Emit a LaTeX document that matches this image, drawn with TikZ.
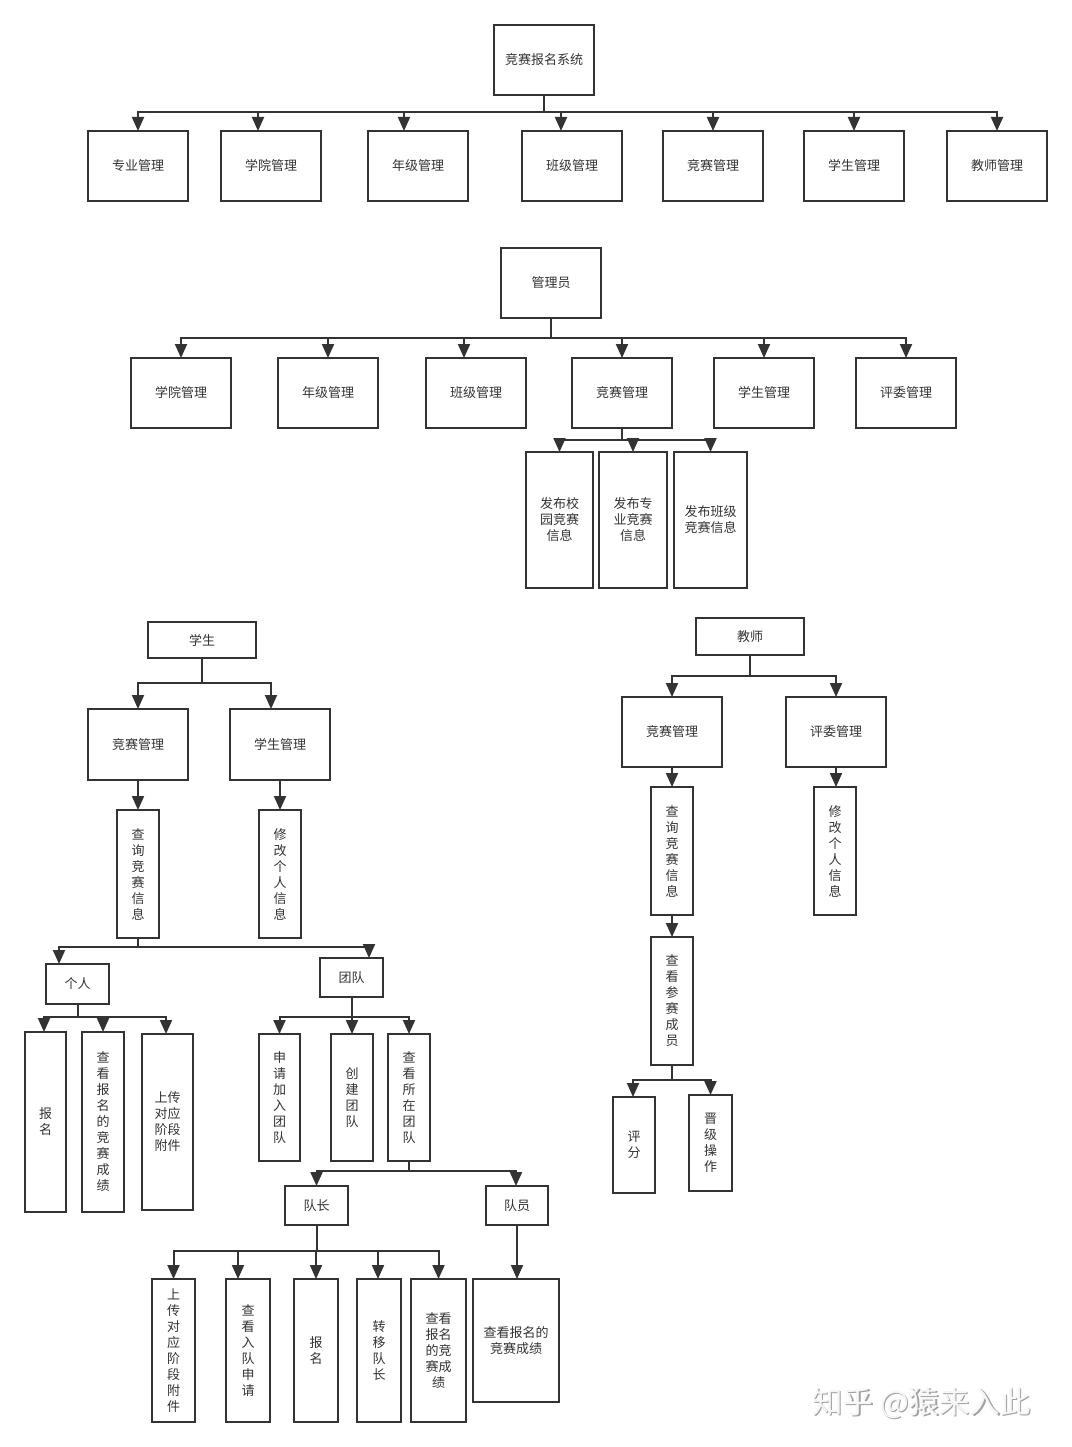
\documentclass[tikz,border=0pt]{standalone}
\usepackage{fontspec}
\newfontfamily\cjk{Noto Sans CJK SC}
\usetikzlibrary{arrows.meta}
\definecolor{ink}{HTML}{333333}
\definecolor{wmshadow}{HTML}{A0A0A0}
\definecolor{wmface}{HTML}{F6F6F6}
\begin{document}
\begin{tikzpicture}[x=1pt,y=-1pt,
  box/.style={draw=ink, line width=2pt, fill=white, inner sep=0pt, outer sep=0pt,
    align=center, text=ink, font=\cjk\fontsize{13}{16}\selectfont},
  arr/.style={draw=ink, line width=2pt, -{Triangle[width=12pt,length=14pt]}},
  wm/.style={inner sep=0pt, font=\cjk\fontsize{30.5}{32}\selectfont}]
\fill[white] (0,0) rectangle (1071,1447);
\useasboundingbox (0,0) rectangle (1071,1447);

% ---------- system overview ----------
\node[box, minimum width=100pt, minimum height=70pt] (sys) at (544,60) {竞赛报名系统};
\node[box, minimum width=100pt, minimum height=70pt] (r1a) at (138,166) {专业管理};
\node[box, minimum width=100pt, minimum height=70pt] (r1b) at (271,166) {学院管理};
\node[box, minimum width=100pt, minimum height=70pt] (r1c) at (418,166) {年级管理};
\node[box, minimum width=100pt, minimum height=70pt] (r1d) at (572,166) {班级管理};
\node[box, minimum width=100pt, minimum height=70pt] (r1e) at (713,166) {竞赛管理};
\node[box, minimum width=100pt, minimum height=70pt] (r1f) at (854,166) {学生管理};
\node[box, minimum width=100pt, minimum height=70pt] (r1g) at (997,166) {教师管理};
\foreach \n/\dx in {r1a/0,r1b/-13,r1c/-14,r1d/-11,r1e/0,r1f/0,r1g/0}
  \draw[arr] (sys.south) -- ++(0,17) -| ([xshift=\dx]\n.north);

% ---------- administrator ----------
\node[box, minimum width=100pt, minimum height=70pt] (adm) at (551,283) {管理员};
\node[box, minimum width=100pt, minimum height=70pt] (r2a) at (181,393) {学院管理};
\node[box, minimum width=100pt, minimum height=70pt] (r2b) at (328,393) {年级管理};
\node[box, minimum width=100pt, minimum height=70pt] (r2c) at (476,393) {班级管理};
\node[box, minimum width=100pt, minimum height=70pt] (r2d) at (622,393) {竞赛管理};
\node[box, minimum width=100pt, minimum height=70pt] (r2e) at (764,393) {学生管理};
\node[box, minimum width=100pt, minimum height=70pt] (r2f) at (906,393) {评委管理};
\foreach \n/\dx in {r2a/0,r2b/0,r2c/-12,r2d/0,r2e/0,r2f/0}
  \draw[arr] (adm.south) -- ++(0,20) -| ([xshift=\dx]\n.north);
\node[box, minimum width=67pt, minimum height=136pt] (p1) at (559.5,520) {发布校\\园竞赛\\信息};
\node[box, minimum width=68pt, minimum height=136pt] (p2) at (633,520) {发布专\\业竞赛\\信息};
\node[box, minimum width=73pt, minimum height=136pt] (p3) at (710.5,520) {发布班级\\竞赛信息};
\foreach \n in {p1,p2,p3}
  \draw[arr] (r2d.south) -- ++(0,12) -| (\n.north);

% ---------- student ----------
\node[box, minimum width=108pt, minimum height=36pt] (stu) at (202,640) {学生};
\node[box, minimum width=100pt, minimum height=71pt] (s1) at (138,744.5) {竞赛管理};
\node[box, minimum width=100pt, minimum height=71pt] (s2) at (280,744.5) {学生管理};
\foreach \n/\dx in {s1/0,s2/-9}
  \draw[arr] (stu.south) -- ++(0,25) -| ([xshift=\dx]\n.north);
\node[box, minimum width=42pt, minimum height=128pt] (s3) at (138,874) {查\\询\\竞\\赛\\信\\息};
\node[box, minimum width=42pt, minimum height=128pt] (s4) at (280,874) {修\\改\\个\\人\\信\\息};
\draw[arr] (s1.south) -- (s3.north);
\draw[arr] (s2.south) -- (s4.north);
\node[box, minimum width=63pt, minimum height=40pt] (ind) at (77.5,984) {个人};
\node[box, minimum width=63pt, minimum height=39pt] (team) at (351.5,977.5) {团队};
\foreach \n/\dx in {ind/-18.5,team/17.5}
  \draw[arr] (s3.south) -- ++(0,9) -| ([xshift=\dx]\n.north);

\node[box, minimum width=41pt, minimum height=180pt] (i1) at (45.5,1122) {报\\名};
\node[box, minimum width=42pt, minimum height=180pt] (i2) at (103,1122) {查\\看\\报\\名\\的\\竞\\赛\\成\\绩};
\node[box, minimum width=51pt, minimum height=176pt] (i3) at (167.5,1122) {上传\\对应\\阶段\\附件};
\foreach \n/\dx in {i1/-1.5,i2/0,i3/-1.5}
  \draw[arr] (ind.south) -- ++(0,13) -| ([xshift=\dx]\n.north);

\node[box, minimum width=41pt, minimum height=127pt] (t1) at (279.5,1097.5) {申\\请\\加\\入\\团\\队};
\node[box, minimum width=42pt, minimum height=127pt] (t2) at (352,1097.5) {创\\建\\团\\队};
\node[box, minimum width=42pt, minimum height=127pt] (t3) at (409,1097.5) {查\\看\\所\\在\\团\\队};
\foreach \n in {t1,t2,t3}
  \draw[arr] (team.south) -- ++(0,20) -| (\n.north);

\node[box, minimum width=63pt, minimum height=39pt] (cap) at (316.5,1205.5) {队长};
\node[box, minimum width=62pt, minimum height=39pt] (mem) at (517,1205.5) {队员};
\foreach \n/\dx in {cap/0,mem/-1}
  \draw[arr] (t3.south) -- ++(0,10) -| ([xshift=\dx]\n.north);

\node[box, minimum width=43pt, minimum height=143pt] (c1) at (173.5,1350.5) {上\\传\\对\\应\\阶\\段\\附\\件};
\node[box, minimum width=44pt, minimum height=143pt] (c2) at (248,1350.5) {查\\看\\入\\队\\申\\请};
\node[box, minimum width=44pt, minimum height=143pt] (c3) at (316,1350.5) {报\\名};
\node[box, minimum width=44pt, minimum height=143pt] (c4) at (379,1350.5) {转\\移\\队\\长};
\node[box, minimum width=55pt, minimum height=143pt] (c5) at (438.5,1350.5) {查看\\报名\\的竞\\赛成\\绩};
\foreach \n/\dx in {c1/0,c2/-10,c3/0,c4/-1,c5/0}
  \draw[arr] (cap.south) -- ++(0,26) -| ([xshift=\dx]\n.north);
\node[box, minimum width=86pt, minimum height=123pt] (m1) at (516,1340.5) {查看报名的\\竞赛成绩};
\draw[arr] (mem.south) -- (mem.south |- m1.north);

% ---------- teacher ----------
\node[box, minimum width=108pt, minimum height=37pt] (tea) at (750,636.5) {教师};
\node[box, minimum width=100pt, minimum height=70pt] (e1) at (672,732) {竞赛管理};
\node[box, minimum width=100pt, minimum height=70pt] (e2) at (836,732) {评委管理};
\foreach \n in {e1,e2}
  \draw[arr] (tea.south) -- ++(0,21) -| (\n.north);
\node[box, minimum width=42pt, minimum height=128pt] (e3) at (672,851) {查\\询\\竞\\赛\\信\\息};
\node[box, minimum width=42pt, minimum height=128pt] (e4) at (835,851) {修\\改\\个\\人\\信\\息};
\node[box, minimum width=42pt, minimum height=128pt] (e5) at (672,1001) {查\\看\\参\\赛\\成\\员};
\draw[arr] (e1.south) -- (e3.north);
\draw[arr] (e3.south) -- (e5.north);
\draw[arr] (e2.south) -- (e2.south |- e4.north);
\node[box, minimum width=42pt, minimum height=96pt] (e6) at (634,1145) {评\\分};
\node[box, minimum width=43pt, minimum height=96pt] (e7) at (710.5,1143) {晋\\级\\操\\作};
\foreach \n/\dx in {e6/-1,e7/0}
  \draw[arr] (e5.south) -- ++(0,15) -| ([xshift=\dx]\n.north);

% ---------- watermark ----------
\node[wm, text=wmshadow, anchor=west] (wms) at (813.5,1404.5) {知乎 @猿来入此};
\node[wm, text=wmface, anchor=west] (wmt) at (812,1403) {知乎 @猿来入此};
\end{tikzpicture}
\end{document}
